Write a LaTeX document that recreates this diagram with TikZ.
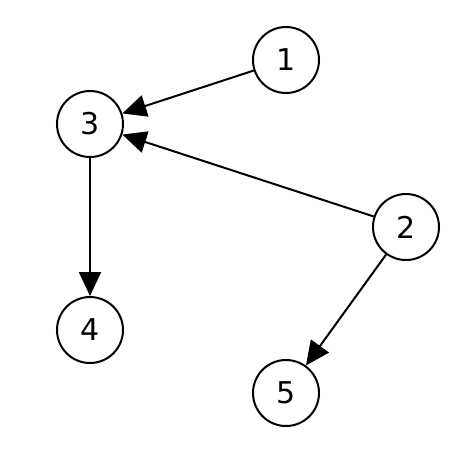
\documentclass[tikz,border=0pt]{standalone}
\usepackage{fontspec}
\setmainfont{DejaVu Sans}
\usetikzlibrary{arrows.meta}
\begin{document}
\begin{tikzpicture}[x=1pt,y=-1pt,
  vert/.style={circle,draw,line width=2pt,minimum size=66pt,inner sep=0pt,font=\fontsize{30}{34}\selectfont},
  edge/.style={line width=2pt,-{Triangle[length=24pt,width=22pt]}}]
\useasboundingbox (0,0) rectangle (462,456);
\node[vert] (n1) at (286,60) {1};
\node[vert] (n3) at (90,124) {3};
\node[vert] (n2) at (406,227) {2};
\node[vert] (n4) at (90,330) {4};
\node[vert] (n5) at (286,393) {5};
\draw[edge] (n1) -- (n3);
\draw[edge] (n2) -- (n3);
\draw[edge] (n3) -- (n4);
\draw[edge] (n2) -- (n5);
\end{tikzpicture}
\end{document}
